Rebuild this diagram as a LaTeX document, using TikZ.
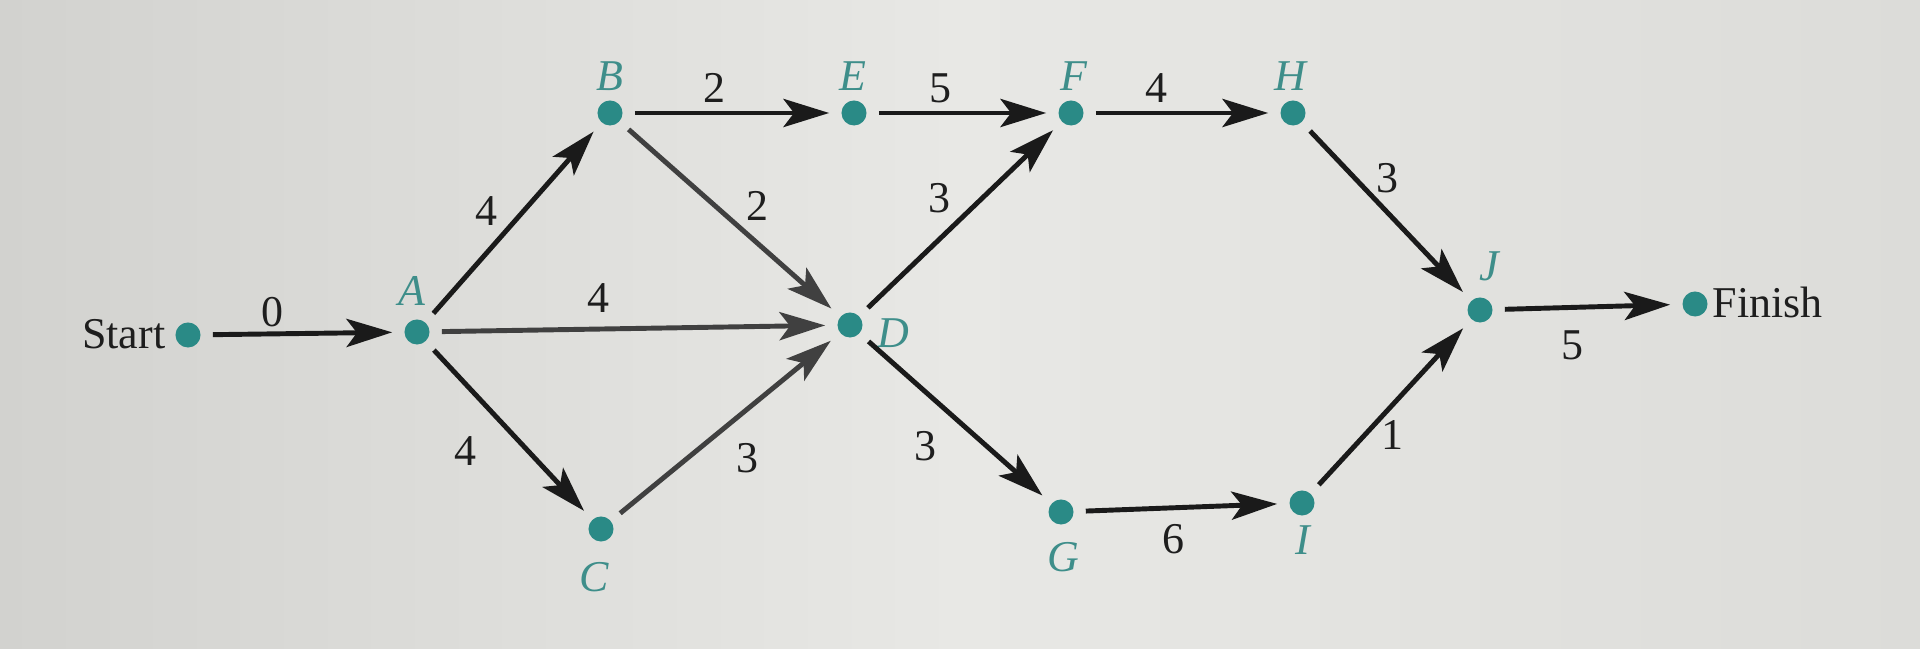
\documentclass[tikz,border=0pt]{standalone}
\usepackage{fontspec}
\setmainfont{Liberation Serif}
\usetikzlibrary{arrows.meta}
\definecolor{dotc}{HTML}{2A8A86}
\definecolor{letc}{HTML}{3E8E8A}
\definecolor{numc}{HTML}{1E1E1E}
\definecolor{arrc}{HTML}{1A1A1A}
\definecolor{arrg}{HTML}{404040}
\definecolor{bgl}{HTML}{D2D2CF}
\definecolor{bgm}{HTML}{E8E8E5}
\definecolor{bgr}{HTML}{DCDCD9}
\begin{document}
\begin{tikzpicture}[x=0.01cm,y=-0.01cm,
  dot/.style={circle,fill=dotc,inner sep=0pt,minimum size=0.25cm,outer sep=0pt},
  arr/.style={line width=1.4pt,draw=arrc,-{Stealth[length=13pt,width=8pt,inset=3pt]},shorten <=3.5pt,shorten >=3.5pt},
  arrgray/.style={arr,draw=arrg},
  num/.style={font=\fontsize{12.5}{14}\selectfont,text=numc,inner sep=0pt},
  lett/.style={font=\fontsize{12.5}{14}\selectfont\itshape,text=letc,inner sep=0pt},
  word/.style={font=\fontsize{12.5}{14}\selectfont,text=numc,inner sep=0pt}]
\useasboundingbox (0,0) rectangle (1920,649);
\shade[left color=bgl,right color=bgr,middle color=bgm] (0,0) rectangle (1920,649);
% dots
\node[dot] (S) at (188,335) {};
\node[dot] (A) at (417,332) {};
\node[dot] (B) at (610,113) {};
\node[dot] (C) at (601,529) {};
\node[dot] (D) at (850,325) {};
\node[dot] (E) at (854,113) {};
\node[dot] (F) at (1071,113) {};
\node[dot] (G) at (1061,512) {};
\node[dot] (H) at (1293,113) {};
\node[dot] (I) at (1302,503) {};
\node[dot] (J) at (1480,310) {};
\node[dot] (Fin) at (1695,304) {};
% names
\node[word,anchor=east] (tS) at (166,334) {Start};
\node[word,anchor=west] (tFin) at (1712,302) {Finish};
\node[lett] (lA) at (412,291) {A};
\node[lett] (lB) at (610,76) {B};
\node[lett] (lC) at (594,577) {C};
\node[lett] (lD) at (893,333) {D};
\node[lett] (lE) at (853,76) {E};
\node[lett] (lF) at (1074,76) {F};
\node[lett] (lG) at (1063,557) {G};
\node[lett] (lH) at (1290,76) {H};
\node[lett] (lI) at (1303,540) {I};
\node[lett] (lJ) at (1489,266) {J};
% connectors
\draw[arr] (S) -- (A);
\draw[arr] (A) -- (B);
\draw[arrgray] (A) -- (D);
\draw[arr] (A) -- (C);
\draw[arr] (B) -- (E);
\draw[arrgray] (B) -- (D);
\draw[arrgray] (C) -- (D);
\draw[arr] (E) -- (F);
\draw[arr] (D) -- (F);
\draw[arr] (D) -- (G);
\draw[arr] (F) -- (H);
\draw[arr] (H) -- (J);
\draw[arr] (G) -- (I);
\draw[arr] (I) -- (J);
\draw[arr] (J) -- (Fin);
% weights
\node[num] (w0) at (272,312) {0};
\node[num] (w1) at (486,211) {4};
\node[num] (w2) at (598,298) {4};
\node[num] (w3) at (465,451) {4};
\node[num] (w4) at (714,88) {2};
\node[num] (w5) at (757,206) {2};
\node[num] (w6) at (747,458) {3};
\node[num] (w7) at (940,88) {5};
\node[num] (w8) at (939,198) {3};
\node[num] (w9) at (925,446) {3};
\node[num] (w10) at (1156,88) {4};
\node[num] (w11) at (1387,178) {3};
\node[num] (w12) at (1173,539) {6};
\node[num] (w13) at (1392,435) {1};
\node[num] (w14) at (1572,345) {5};
\end{tikzpicture}
\end{document}
